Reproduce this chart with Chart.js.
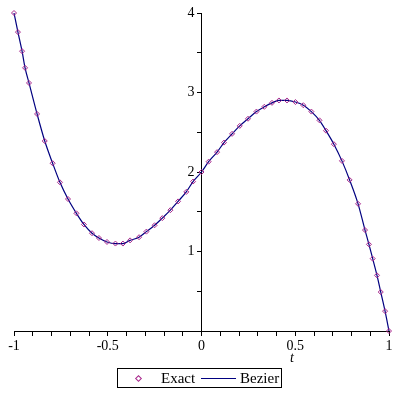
<!DOCTYPE html>
<html>
<head>
<meta charset="utf-8">
<script src="https://cdn.jsdelivr.net/npm/chart.js@4/dist/chart.umd.min.js"></script>
<style>
  body { margin: 0; background: #fff; }
  #wrap { position: relative; width: 400px; height: 400px; }
  #axisTitle { position: absolute; left: 290px; top: 350px; font: italic 14px "Liberation Serif", serif; color: #000; }
  #legend { position: absolute; left: 117px; top: 368px; width: 163px; height: 18px; border: 1px solid #000;
            font: 15px "Liberation Serif", serif; color: #000; background: #fff; }
  #legend span { position: absolute; }
  .diamond { left: 18px; top: 7px; width: 3px; height: 3px; border: 1px solid #a8288c; transform: rotate(45deg); }
  .lbl1 { left: 43px; top: 0px; line-height: 18px; }
  .line { left: 83px; top: 9px; width: 35px; height: 0; border-top: 1px solid #000080; }
  .lbl2 { left: 122px; top: 0px; line-height: 18px; }
</style>
</head>
<body>
<div id="wrap">
  <canvas id="chart" width="400" height="400"></canvas>
  <div id="axisTitle">t</div>
  <div id="legend">
    <span class="diamond"></span><span class="lbl1">Exact</span>
    <span class="line"></span><span class="lbl2">Bezier</span>
  </div>
</div>
<script>
// ---------------- DATA ----------------
// sample points (t, value)
const tValues = [-1.000, -0.979, -0.957, -0.941, -0.920, -0.877, -0.836, -0.794, -0.755, -0.712,
                 -0.667, -0.627, -0.584, -0.547, -0.504, -0.459, -0.419, -0.381, -0.333, -0.294,
                 -0.250, -0.209, -0.166, -0.125, -0.081, -0.045, 0.000, 0.038, 0.083, 0.120,
                 0.163, 0.204, 0.248, 0.293, 0.335, 0.376, 0.413, 0.456, 0.501, 0.543,
                 0.586, 0.629, 0.664, 0.706, 0.749, 0.790, 0.835, 0.872, 0.893, 0.913,
                 0.936, 0.956, 0.979, 1.000];
const exactValues = [4.00, 3.76, 3.52, 3.31, 3.12, 2.73, 2.39, 2.11, 1.87, 1.66,
                     1.48, 1.34, 1.23, 1.17, 1.12, 1.10, 1.10, 1.14, 1.18, 1.25,
                     1.33, 1.42, 1.52, 1.63, 1.75, 1.88, 2.00, 2.13, 2.25, 2.37,
                     2.48, 2.58, 2.67, 2.76, 2.82, 2.87, 2.90, 2.90, 2.88, 2.84,
                     2.76, 2.65, 2.52, 2.35, 2.14, 1.90, 1.60, 1.27, 1.09, 0.91,
                     0.70, 0.49, 0.25, 0.00];
// the Bezier curve runs through the same places
const bezierValues = exactValues.slice();

const xLabels = [-1, -0.5, 0, 0.5, 1];   // labelled x ticks
const yLabels = [1, 2, 3, 4];            // labelled y ticks

function toPoints(xs, ys) {
    return xs.map((x, i) => ({ x: x, y: ys[i] }));
}

// ---------------- CHART ----------------
Chart.defaults.font.family = "'Liberation Serif', serif";
Chart.defaults.color = "#000";

const ctx = document.getElementById("chart").getContext("2d");
new Chart(ctx, {
    type: "scatter",
    data: {
        datasets: [{
            label: "Bezier",
            data: toPoints(tValues, bezierValues),
            showLine: true,
            borderColor: "#000080",
            borderWidth: 1.2,
            pointRadius: 0,
            cubicInterpolationMode: "monotone",
            clip: false,
            order: 2
        }, {
            label: "Exact",
            data: toPoints(tValues, exactValues),
            showLine: false,
            pointStyle: "rectRot",
            pointRadius: 2.5,
            borderColor: "#a8288c",
            backgroundColor: "rgba(0,0,0,0)",
            borderWidth: 1,
            clip: false,
            order: 1
        }]
    },
    options: {
        responsive: false,
        animation: false,
        layout: { padding: { left: 14, right: 11, top: 13, bottom: 69 } },
        plugins: { legend: { display: false }, tooltip: { enabled: false } },
        scales: {
            x: {
                type: "linear",
                position: { y: 0 },
                min: -1, max: 1,
                afterFit: s => { s.height = 0; },
                border: { display: true, color: "#000", width: 1 },
                grid: { drawOnChartArea: false, drawTicks: true, tickLength: 4, color: "#000" },
                ticks: {
                    stepSize: 0.1, autoSkip: false, maxRotation: 0, padding: 3,
                    font: { size: 14 },
                    callback: v => {
                        const r = Math.round(v * 10) / 10;
                        return xLabels.includes(r) ? String(r) : "";
                    }
                }
            },
            y: {
                type: "linear",
                position: { x: 0 },
                min: 0, max: 4,
                afterFit: s => { s.width = 0; },
                border: { display: true, color: "#000", width: 1 },
                grid: { drawOnChartArea: false, drawTicks: true, tickLength: 4, color: "#000" },
                ticks: {
                    stepSize: 0.5, padding: 3,
                    font: { size: 14 },
                    // axis sits in the middle, so pad the label away from the line
                    callback: v => yLabels.includes(v) ? String(v) + "  " : ""
                }
            }
        }
    }
});
</script>
</body>
</html>
